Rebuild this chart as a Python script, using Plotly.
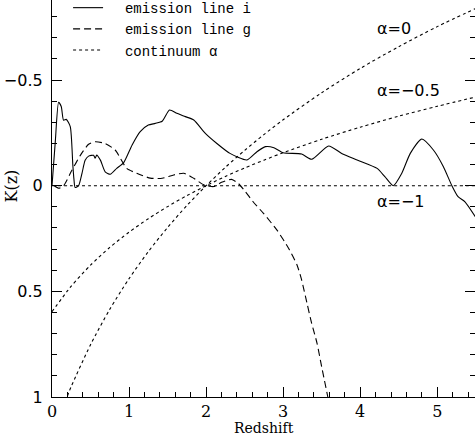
import plotly.graph_objects as go

# ── data ──────────────────────────────────────────────────────────────────────
z_line_i = [0.0, 0.043, 0.086, 0.12, 0.15, 0.185, 0.237, 0.27, 0.285, 0.30,
            0.345, 0.39, 0.43, 0.475, 0.54, 0.56, 0.58, 0.63, 0.69, 0.756,
            0.84, 0.93, 1.04, 1.145, 1.25, 1.34, 1.43, 1.525, 1.62, 1.73,
            1.84, 1.99, 2.14, 2.31, 2.53, 2.66, 2.77, 2.88, 3.0, 3.24,
            3.37, 3.59, 3.76, 3.96, 4.22, 4.32, 4.43, 4.54, 4.65, 4.80,
            4.95, 5.08, 5.19, 5.27, 5.36, 5.5]
k_line_i = [0.0, -0.21, -0.395, -0.375, -0.31, -0.314, -0.28, -0.10, -0.03, 0.008,
            0.0, -0.06, -0.12, -0.14, -0.144, -0.13, -0.145, -0.12, -0.066, -0.054,
            -0.082, -0.109, -0.193, -0.256, -0.287, -0.295, -0.305, -0.358, -0.343, -0.327,
            -0.311, -0.248, -0.20, -0.153, -0.122, -0.161, -0.185, -0.18, -0.156, -0.150,
            -0.125, -0.188, -0.153, -0.122, -0.082, -0.043, 0.0, -0.059, -0.153, -0.221,
            -0.169, -0.09, 0.0, 0.052, 0.076, 0.15]

z_line_g = [0.03, 0.09, 0.15, 0.26, 0.37, 0.475, 0.56, 0.69, 0.82, 0.97,
            1.10, 1.275, 1.43, 1.58, 1.71, 1.84, 1.97, 2.10, 2.20, 2.33,
            2.42, 2.51, 2.61, 2.745, 2.92, 3.07, 3.18, 3.24, 3.31, 3.37,
            3.44, 3.50, 3.58]
k_line_g = [0.0, 0.012, 0.0, -0.074, -0.145, -0.196, -0.208, -0.2, -0.169, -0.082,
            -0.059, -0.036, -0.035, -0.051, -0.059, -0.035, -0.004, 0.004, -0.016, -0.03,
            -0.01, 0.028, 0.076, 0.131, 0.21, 0.296, 0.375, 0.446, 0.557, 0.651,
            0.746, 0.857, 1.0]

z_cont = [0.0, 0.2, 0.25, 0.5, 0.75, 1.0, 1.25, 1.5, 1.75, 2.0, 2.25, 2.5,
          2.75, 3.0, 3.5, 4.0, 4.5, 5.0, 5.5]
k_alpha_0 = [None, 0.995, 0.950, 0.753, 0.585, 0.440, 0.312, 0.198, 0.094, 0.0,
             -0.087, -0.167, -0.242, -0.312, -0.440, -0.555, -0.658, -0.753, -0.839]
k_alpha_05 = [0.596, 0.498, 0.475, 0.376, 0.292, 0.220, 0.156, 0.099, 0.047, 0.0,
              -0.044, -0.084, -0.121, -0.156, -0.220, -0.277, -0.329, -0.376, -0.420]
k_alpha_1 = [0.0] * len(z_cont)

alpha_labels = ["α=0", "α=−0.5", "α=−1"]
alpha_label_x = [4.19, 4.19, 4.195]
alpha_label_y = [-0.746, -0.453, 0.076]

legend_names = ["emission line i", "emission line g", "continuum α"]

y_tickvals = [-0.5, 0, 0.5, 1]
y_ticktext = ["−0.5", "0", "0.5", "1"]
x_tickvals = [0, 1, 2, 3, 4, 5]

SERIF = "DejaVu Serif"
SANS = "DejaVu Sans"
MONO = "Liberation Mono"
INK = "black"
PAD = "\u00a0\u00a0"  # pushes legend text a bit further from its sample line

fig = go.Figure()

fig.add_trace(go.Scatter(
    x=z_line_i, y=k_line_i, mode="lines", name=PAD + legend_names[0],
    line=dict(color=INK, width=1.1, shape="spline", smoothing=0.6),
))
fig.add_trace(go.Scatter(
    x=z_line_g, y=k_line_g, mode="lines", name=PAD + legend_names[1],
    line=dict(color=INK, width=1.1, dash="7px,4px", shape="spline", smoothing=0.6),
))
for i, k in enumerate([k_alpha_0, k_alpha_05, k_alpha_1]):
    fig.add_trace(go.Scatter(
        x=z_cont, y=k, mode="lines", name=PAD + legend_names[2],
        showlegend=(i == 0),
        line=dict(color=INK, width=1.1, dash="dot", shape="spline", smoothing=0.8),
    ))

for txt, ax, ay in zip(alpha_labels, alpha_label_x, alpha_label_y):
    fig.add_annotation(x=ax, y=ay, text=txt, showarrow=False,
                       xanchor="left", yanchor="middle",
                       font=dict(family=SANS, size=16, color=INK))

# axis titles as annotations so they sit where the reference has them
fig.add_annotation(xref="paper", yref="y", x=-0.095, y=0, text="K(z)",
                   textangle=-90, showarrow=False, xanchor="center", yanchor="middle",
                   font=dict(family=SERIF, size=16, color=INK))
fig.add_annotation(xref="paper", yref="paper", x=0.5, y=-0.078, text="Redshift",
                   showarrow=False, xanchor="center", yanchor="middle",
                   font=dict(family=SERIF, size=14, color=INK))

fig.update_xaxes(
    range=[0, 5.49], showgrid=False, zeroline=False,
    showline=True, linecolor=INK, linewidth=1.2, mirror=False,
    ticks="inside", ticklen=10, tickcolor=INK, tickwidth=1,
    tickvals=x_tickvals, ticklabelstandoff=0,
    minor=dict(dtick=0.2, ticks="inside", ticklen=5, tickcolor=INK),
    tickfont=dict(family=SERIF, size=16, color=INK),
)
fig.update_yaxes(
    range=[1, -0.879], showgrid=False, zeroline=False,
    showline=True, linecolor=INK, linewidth=1.2, mirror="ticks",
    ticks="inside", ticklen=10, tickcolor=INK, tickwidth=1,
    tickvals=y_tickvals, ticktext=y_ticktext, ticklabelstandoff=5,
    minor=dict(dtick=0.1, ticks="inside", ticklen=5, tickcolor=INK),
    tickfont=dict(family=SANS, size=16, color=INK),
)

fig.update_layout(
    width=475, height=437,
    margin=dict(l=52, r=0, t=0, b=40, autoexpand=False),
    paper_bgcolor="white", plot_bgcolor="white",
    font=dict(family=SERIF, size=15, color=INK),
    legend=dict(x=0.038, y=1.02, xanchor="left", yanchor="top",
                bgcolor="rgba(0,0,0,0)", borderwidth=0,
                font=dict(family=MONO, size=14, color=INK),
                tracegroupgap=0),
    showlegend=True,
)

# the page body has an 8px default margin; drop it so the figure fills the window
fig.write_html("out.html", config={"displayModeBar": False},
               post_script="document.body.style.margin='0';")
